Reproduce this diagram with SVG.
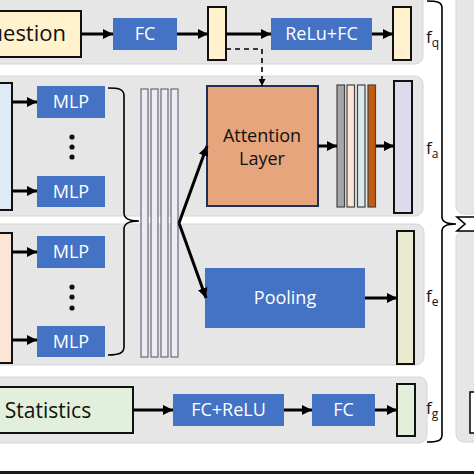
<svg xmlns="http://www.w3.org/2000/svg" width="474" height="474" viewBox="0 0 474 474">
<defs>
<marker id="ah" viewBox="0 0 10 10" refX="10" refY="5" markerWidth="10" markerHeight="10" markerUnits="userSpaceOnUse" orient="auto">
<path d="M0,0 L10,5 L0,10 Z" fill="#000"/>
</marker>
<marker id="ahs" viewBox="0 0 10 10" refX="10" refY="5" markerWidth="7" markerHeight="7" markerUnits="userSpaceOnUse" orient="auto">
<path d="M0,0 L10,5 L0,10 Z" fill="#000"/>
</marker>
</defs>
<style>
.panel{fill:#e6e6e6;stroke:#d6d6d6;stroke-width:1}
.blue{fill:#4472c4}
.wt{fill:#fff;font-family:"Open Sans","Noto Sans",sans-serif;font-size:18px;text-anchor:middle}
.bt{fill:#111;font-family:"Open Sans","Noto Sans",sans-serif;text-anchor:middle}
.vec{stroke:#111;stroke-width:2}
.arr{stroke:#000;stroke-width:3;fill:none;marker-end:url(#ah)}
.bar{fill:#ececf6;stroke:#6b6b75;stroke-width:1.2}
.abar{stroke:#444;stroke-width:1.2}
.brace{fill:none;stroke:#000;stroke-width:1.6}
.lab{fill:#111;font-family:"Open Sans","Noto Sans",sans-serif;font-size:17px}
</style>
<rect width="474" height="474" fill="#fff"/>
<g id="panels">
<rect class="panel" x="-20" y="-12" width="443" height="76" rx="8"/>
<rect class="panel" x="-20" y="76" width="443" height="140" rx="8"/>
<rect class="panel" x="-20" y="224" width="444" height="141" rx="8"/>
<rect class="panel" x="-20" y="377" width="447" height="66" rx="8"/>
<rect class="panel" x="456" y="-12" width="40" height="226" rx="8"/>
<rect class="panel" x="456" y="231" width="40" height="211" rx="8"/>
</g>
<g id="question">
<rect x="-30" y="11" width="111" height="46" fill="#fff2cc" stroke="#111" stroke-width="2"/>
<text class="bt" x="66" y="41" font-size="22" text-anchor="end" style="text-anchor:end">Question</text>
</g>
<g id="fc_q"><rect class="blue" x="113" y="18" width="64" height="32"/><text class="wt" x="145" y="40">FC</text></g>
<g id="vec_q1"><rect class="vec" x="208" y="7" width="18" height="53" fill="#fff2cc"/></g>
<g id="relufc"><rect class="blue" x="271" y="18" width="101" height="32"/><text class="wt" x="321.5" y="40">ReLu+FC</text></g>
<g id="vec_fq"><rect class="vec" x="393" y="7" width="18" height="53" fill="#fff2cc"/></g>

<g id="img_a"><rect x="-30" y="83" width="42" height="127" fill="#deebf7" stroke="#111" stroke-width="2"/></g>
<g id="mlp_a1"><rect class="blue" x="37" y="86" width="68" height="32"/><text class="wt" x="71" y="108">MLP</text></g>
<g id="mlp_a2"><rect class="blue" x="37" y="176" width="68" height="31"/><text class="wt" x="71" y="198">MLP</text></g>
<g id="dots_a" fill="#111"><circle cx="72" cy="137" r="2.6"/><circle cx="72" cy="147" r="2.6"/><circle cx="72" cy="157" r="2.6"/></g>

<g id="img_e"><rect x="-30" y="233" width="42" height="130" fill="#fbe5d6" stroke="#111" stroke-width="2"/></g>
<g id="mlp_e1"><rect class="blue" x="37" y="236" width="68" height="32"/><text class="wt" x="71" y="258">MLP</text></g>
<g id="mlp_e2"><rect class="blue" x="37" y="326" width="68" height="31"/><text class="wt" x="71" y="348">MLP</text></g>
<g id="dots_e" fill="#111"><circle cx="72" cy="287" r="2.6"/><circle cx="72" cy="297" r="2.6"/><circle cx="72" cy="308" r="2.6"/></g>

<g id="stack">
<rect class="bar" x="141" y="89" width="7" height="268"/>
<rect class="bar" x="151" y="89" width="7" height="268"/>
<rect class="bar" x="161" y="89" width="7" height="268"/>
<rect class="bar" x="171" y="89" width="7" height="268"/>
</g>

<g id="attention"><rect x="207" y="86" width="111" height="120" fill="#e6a57c" stroke="#1f2f55" stroke-width="2"/>
<text class="bt" x="262" y="142" font-size="18">Attention</text><text class="bt" x="262" y="165" font-size="18">Layer</text></g>
<g id="attn_bars">
<rect class="abar" x="337" y="85" width="7.5" height="122" fill="#a6a6a6"/>
<rect class="abar" x="347" y="85" width="7.5" height="122" fill="#fbe5d6"/>
<rect class="abar" x="357.5" y="85" width="7.5" height="122" fill="#dce8ea"/>
<rect class="abar" x="368" y="85" width="7.5" height="122" fill="#c55a11"/>
</g>
<g id="vec_fa"><rect class="vec" x="394" y="81" width="18" height="132" fill="#dcdaec"/></g>

<g id="pooling"><rect class="blue" x="205" y="268" width="160" height="60"/><text class="wt" x="285" y="304">Pooling</text></g>
<g id="vec_fe"><rect class="vec" x="397" y="231" width="17" height="133" fill="#e9eacf"/></g>

<g id="statistics"><rect x="-30" y="387" width="163" height="46" fill="#e2efda" stroke="#111" stroke-width="2"/>
<text class="bt" x="48" y="418" font-size="21">Statistics</text></g>
<g id="fcrelu"><rect class="blue" x="173" y="394" width="111" height="32"/><text class="wt" x="228.5" y="416">FC+ReLU</text></g>
<g id="fc_g"><rect class="blue" x="312" y="394" width="63" height="32"/><text class="wt" x="343.5" y="416">FC</text></g>
<g id="vec_fg"><rect class="vec" x="397" y="384" width="18" height="52" fill="#e2efda"/></g>

<g id="right_part">
<path d="M480,217 L457,217 L465,224 L457,231 L480,231" fill="#fff" stroke="#000" stroke-width="1.6"/>
<rect x="470" y="392" width="12" height="41" fill="#fff" stroke="#111" stroke-width="1.6"/>
</g>

<g id="connectors">
<line class="arr" x1="81" y1="34" x2="113" y2="34"/>
<line class="arr" x1="177" y1="34" x2="208" y2="34"/>
<line class="arr" x1="226" y1="34" x2="271" y2="34"/>
<line class="arr" x1="372" y1="34" x2="393" y2="34"/>
<path d="M226,49 L262,49 L262,86" fill="none" stroke="#000" stroke-width="1.6" stroke-dasharray="5,4" marker-end="url(#ahs)"/>
<line class="arr" x1="12" y1="102" x2="37" y2="102"/>
<line class="arr" x1="12" y1="191" x2="37" y2="191"/>
<line class="arr" x1="12" y1="252" x2="37" y2="252"/>
<line class="arr" x1="12" y1="340" x2="37" y2="340"/>
<path class="brace" d="M108,88 C119,88 124,89 124,96 L124,213 C124,219 130,221 139,221 C130,221 124,223 124,229 L124,347 C124,353 119,355 108,355"/>
<line class="arr" x1="179" y1="223" x2="207" y2="146"/>
<line class="arr" x1="179" y1="223" x2="206" y2="298"/>
<line class="arr" x1="318" y1="146" x2="337" y2="146"/>
<line class="arr" x1="376" y1="146" x2="394" y2="146"/>
<line class="arr" x1="365" y1="298" x2="397" y2="298"/>
<line class="arr" x1="133" y1="410" x2="173" y2="410"/>
<line class="arr" x1="284" y1="410" x2="312" y2="410"/>
<line class="arr" x1="375" y1="410" x2="397" y2="410"/>
<path class="brace" d="M427,1 C437,1 442,2 442,8 L442,217 C442,222 446,224 456,224 C446,224 442,226 442,231 L442,435 C442,441 437,442 427,442"/>
</g>

<g id="labels">
<text class="lab" x="426" y="43">f<tspan font-size="12" dy="4">q</tspan></text>
<text class="lab" x="426" y="154">f<tspan font-size="12" dy="4">a</tspan></text>
<text class="lab" x="426" y="302">f<tspan font-size="12" dy="4">e</tspan></text>
<text class="lab" x="426" y="414">f<tspan font-size="12" dy="4">g</tspan></text>
</g>
<rect x="0" y="471" width="474" height="3" fill="#1a1a1a"/>
</svg>
